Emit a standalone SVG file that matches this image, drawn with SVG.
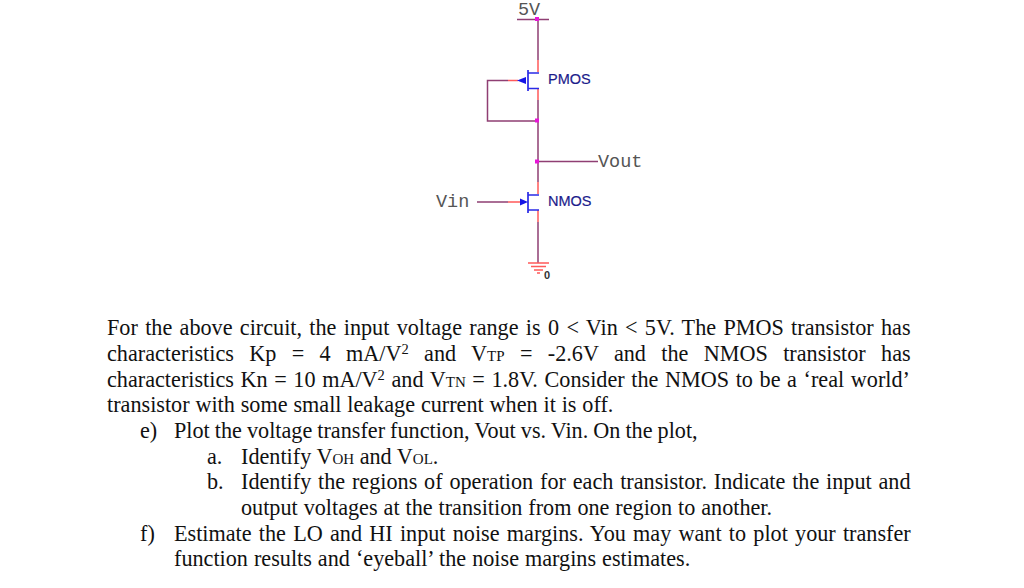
<svg xmlns="http://www.w3.org/2000/svg" width="1024" height="588" viewBox="0 0 1024 588">
<style>
.w{fill:none;stroke:#8f3f73;stroke-width:1.5}
.r{fill:none;stroke:#ff5a5a;stroke-width:1.5}
.b{fill:none;stroke:#2a2ae6;stroke-width:1.700}
.d{fill:#e815d8}
.m{font-family:"Liberation Mono",monospace;font-size:18.500px;fill:#555}
.l{font-family:"Liberation Sans",sans-serif;font-size:14.500px;fill:#1c1c8c;stroke:#1c1c8c;stroke-width:.2}
.t{font-family:"Liberation Serif",serif;font-size:22.200px;fill:#111}
.s{font-size:15px}
.u{font-size:14.500px}
</style>
<rect width="1024" height="588" fill="#fff"/>
<g id="connectors">
<path class="w" d="M517 19.500H549M538 19V60M538 100V182M538 222V263M538 161.500H598M538 121H487.500V80.500H508M477 202H508"/>
<path class="r" d="M538 60V72M538 89V100M538 182V194M538 210V222M508 80.500H518M508 202H520"/>
</g>
<g id="vdd"><text class="m" x="518" y="15">5V</text><rect class="d" x="535" y="17" width="4" height="4"/></g>
<g id="pmos">
<path class="b" d="M539 73H528M539 88.500H528M528 70V91"/>
<path d="M517 80.500L526 77V84Z" fill="#1414e6"/>
<text class="l" x="548" y="84">PMOS</text>
</g>
<g id="nmos">
<path class="b" d="M539 195H528M539 210H528M528 192V213"/>
<path d="M528 202L520 198.500V205.500Z" fill="#1414e6"/>
<text class="l" x="548" y="206">NMOS</text>
</g>
<g id="n1"><rect class="d" x="535" y="118.500" width="4" height="4"/></g>
<g id="vout"><rect class="d" x="535" y="159.500" width="4" height="4"/><text class="m" x="598" y="167">Vout</text></g>
<g id="vin"><text class="m" x="436" y="207">Vin</text></g>
<g id="gnd">
<path class="r" d="M528 263H549M531 266.500H546M534 270H543M537 273H540"/>
<text x="544" y="279" font-family="Liberation Sans,sans-serif" font-size="11" font-weight="bold" fill="#333">0</text>
</g>
<g id="text">
<text class="t" x="107" y="334.500" word-spacing="1.760">For the above circuit, the input voltage range is 0 &lt; Vin &lt; 5V. The PMOS transistor has</text>
<text class="t" x="107" y="360.500" word-spacing="9.800">characteristics Kp = 4 mA/V<tspan class="u" dy="-7">2</tspan><tspan dy="7"> and V</tspan><tspan class="s">TP</tspan> = -2.6V and the NMOS transistor has</text>
<text class="t" x="107" y="386.500" word-spacing="1.060">characteristics Kn = 10 mA/V<tspan class="u" dy="-7">2</tspan><tspan dy="7"> and V</tspan><tspan class="s">TN</tspan> = 1.8V. Consider the NMOS to be a ‘real world’</text>
<text class="t" x="107" y="411.500" word-spacing="0.300">transistor with some small leakage current when it is off.</text>
<text class="t" x="140" y="437.500">e)</text>
<text class="t" x="174" y="437.500" word-spacing="-0.500">Plot the voltage transfer function, Vout vs. Vin. On the plot,</text>
<text class="t" x="207" y="463.500">a.</text>
<text class="t" x="241" y="463.500">Identify V<tspan class="s">OH</tspan> and V<tspan class="s">OL</tspan>.</text>
<text class="t" x="207" y="488.500">b.</text>
<text class="t" x="241" y="488.500" word-spacing="1.270">Identify the regions of operation for each transistor. Indicate the input and</text>
<text class="t" x="241" y="514.500" word-spacing="0.400">output voltages at the transition from one region to another.</text>
<text class="t" x="140" y="540.500">f)</text>
<text class="t" x="174" y="540.500" word-spacing="1.680">Estimate the LO and HI input noise margins. You may want to plot your transfer</text>
<text class="t" x="174" y="565.500" word-spacing="0.450">function results and ‘eyeball’ the noise margins estimates.</text>
</g>
</svg>
